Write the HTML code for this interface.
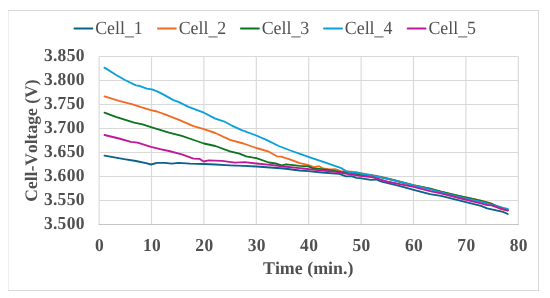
<!DOCTYPE html>
<html><head><meta charset="utf-8"><style>
html,body{margin:0;padding:0;background:#fff;}
body{width:550px;height:298px;overflow:hidden;}
svg{display:block;}

text{font-family:"Liberation Serif","Times New Roman",serif;fill:#505050;text-rendering:geometricPrecision;}
</style></head><body>
<svg width="550" height="298" viewBox="0 0 550 298">
<rect width="550" height="298" fill="#fff"/>
<g>
<g stroke-width="1" shape-rendering="crispEdges" fill="none">
<line x1="8.5" y1="10" x2="8.5" y2="291" stroke="#eeeeee"/>
<path d="M8,10.5 H538.5 V290.5 H8" stroke="#d9d9d9"/>
</g>
<g stroke="#d9d9d9" stroke-width="1.15">
<line x1="99.1" y1="56.45" x2="518.3" y2="56.45"/>
<line x1="99.1" y1="80.46" x2="518.3" y2="80.46"/>
<line x1="99.1" y1="104.46" x2="518.3" y2="104.46"/>
<line x1="99.1" y1="128.47" x2="518.3" y2="128.47"/>
<line x1="99.1" y1="152.48" x2="518.3" y2="152.48"/>
<line x1="99.1" y1="176.49" x2="518.3" y2="176.49"/>
<line x1="99.1" y1="200.49" x2="518.3" y2="200.49"/>
<line x1="99.10" y1="56.45" x2="99.10" y2="224.5"/>
<line x1="151.50" y1="56.45" x2="151.50" y2="224.5"/>
<line x1="203.90" y1="56.45" x2="203.90" y2="224.5"/>
<line x1="256.30" y1="56.45" x2="256.30" y2="224.5"/>
<line x1="308.70" y1="56.45" x2="308.70" y2="224.5"/>
<line x1="361.10" y1="56.45" x2="361.10" y2="224.5"/>
<line x1="413.50" y1="56.45" x2="413.50" y2="224.5"/>
<line x1="465.90" y1="56.45" x2="465.90" y2="224.5"/>
<line x1="518.30" y1="56.45" x2="518.30" y2="224.5"/>
</g>
<line x1="98.6" y1="224.5" x2="518.8" y2="224.5" stroke="#c4c4c4" stroke-width="1"/>
<g fill="none" stroke-width="1.85" stroke-linejoin="round" stroke-linecap="round">
<path d="M104.5,155.7 L124.2,159.2 L135.9,161.0 L146.0,163.1 L151.0,164.5 L156.9,162.8 L165.0,162.8 L171.7,163.6 L178.4,162.8 L190.2,163.6 L203.9,164.0 L215.3,164.5 L230.0,165.3 L243.4,165.8 L256.8,166.5 L270.2,167.5 L283.6,168.5 L299.7,170.5 L308.4,171.1 L321.8,172.5 L339.3,173.8 L346.0,176.3 L351.3,176.1 L356.7,177.9 L360.0,178.1 L370.7,179.8 L376.1,179.5 L381.5,181.7 L400.2,186.1 L413.6,189.8 L430.0,194.2 L441.0,195.9 L461.0,200.9 L481.0,205.8 L487.1,208.4 L495.1,210.1 L503.0,211.9 L507.8,214.0" stroke="#0b6189"/>
<path d="M104.5,96.4 L119.1,100.9 L132.6,104.3 L141.0,107.1 L151.0,110.1 L156.9,111.5 L165.0,114.4 L178.4,119.6 L193.5,126.2 L203.9,129.1 L215.3,133.0 L230.0,139.8 L243.4,143.5 L256.4,148.0 L268.9,151.7 L276.9,156.3 L281.0,156.7 L289.0,159.1 L300.0,163.2 L308.4,165.1 L313.8,167.1 L319.1,166.2 L323.2,168.5 L329.9,169.4 L335.2,169.1 L340.6,171.1 L351.3,171.6 L365.0,173.8 L372.1,175.2 L381.5,177.0 L393.5,180.0 L413.6,185.2 L430.0,188.6 L441.0,191.6 L451.8,194.3 L461.0,196.3 L466.6,197.4 L481.0,200.6 L491.6,203.4 L496.7,207.0 L500.2,209.0 L507.8,210.6" stroke="#f26b22"/>
<path d="M104.5,112.7 L115.8,116.8 L134.2,122.7 L142.6,124.4 L151.0,127.2 L169.0,132.6 L181.8,135.9 L195.2,140.5 L203.9,143.5 L215.3,146.0 L230.0,151.3 L239.4,153.7 L246.1,156.4 L256.4,158.2 L268.9,162.5 L275.6,163.5 L281.6,165.4 L286.3,164.4 L299.7,165.8 L308.4,166.3 L312.4,168.1 L328.5,169.8 L340.6,171.8 L351.3,173.2 L365.0,175.6 L372.1,175.6 L381.5,177.3 L393.5,180.2 L413.6,185.4 L430.0,188.7 L441.0,191.7 L461.0,196.4 L481.0,200.9 L492.0,204.1 L507.8,210.2" stroke="#0b741e"/>
<path d="M104.5,67.6 L115.8,74.8 L125.0,80.0 L135.9,85.3 L139.3,85.9 L146.8,88.7 L151.9,89.3 L157.7,91.6 L165.0,95.4 L173.4,100.1 L178.4,101.8 L188.5,106.8 L203.9,112.7 L215.3,118.6 L223.7,121.3 L231.3,125.3 L241.7,130.1 L256.3,135.5 L266.9,140.2 L278.7,146.0 L290.4,150.5 L300.0,153.9 L309.8,157.3 L321.8,161.4 L340.6,167.8 L346.0,171.1 L351.3,172.5 L356.7,172.5 L365.0,174.5 L372.1,175.4 L381.5,177.4 L393.5,180.1 L413.6,185.4 L430.0,189.3 L451.8,195.2 L466.6,198.6 L481.3,201.9 L492.1,205.0 L503.0,208.0 L507.8,209.0" stroke="#0aa0dc"/>
<path d="M104.5,135.0 L119.1,138.5 L130.9,141.8 L137.6,142.6 L151.0,146.9 L161.1,149.3 L169.0,151.0 L181.8,154.4 L193.5,158.6 L199.4,158.8 L203.6,161.5 L208.6,160.4 L222.0,160.9 L235.0,162.7 L244.8,162.2 L256.4,163.5 L270.2,164.8 L283.6,166.5 L299.7,168.1 L303.0,168.5 L315.1,169.8 L335.2,171.8 L348.6,174.2 L360.0,175.9 L373.4,177.4 L386.8,181.5 L413.6,186.9 L430.0,191.1 L441.0,193.4 L461.0,198.5 L481.0,203.4 L487.1,205.1 L491.6,205.3 L495.1,206.6 L503.0,209.2 L507.8,210.4" stroke="#c0189a"/>
</g>
<g>
<text transform="translate(84.73,61.40) scale(0.960,1.000)" x="-42.47 -33.08 -28.25 -18.77 -9.29" y="0" font-size="18.2px" font-weight="bold">3.850</text>
<text transform="translate(84.73,85.41) scale(0.960,1.000)" x="-42.47 -33.08 -28.25 -18.77 -9.29" y="0" font-size="18.2px" font-weight="bold">3.800</text>
<text transform="translate(84.73,109.41) scale(0.960,1.000)" x="-42.47 -33.08 -28.25 -18.77 -9.29" y="0" font-size="18.2px" font-weight="bold">3.750</text>
<text transform="translate(84.73,133.42) scale(0.960,1.000)" x="-42.47 -33.08 -28.25 -18.77 -9.29" y="0" font-size="18.2px" font-weight="bold">3.700</text>
<text transform="translate(84.73,157.43) scale(0.960,1.000)" x="-42.47 -33.08 -28.25 -18.77 -9.29" y="0" font-size="18.2px" font-weight="bold">3.650</text>
<text transform="translate(84.73,181.44) scale(0.960,1.000)" x="-42.47 -33.08 -28.25 -18.77 -9.29" y="0" font-size="18.2px" font-weight="bold">3.600</text>
<text transform="translate(84.73,205.44) scale(0.960,1.000)" x="-42.47 -33.08 -28.25 -18.77 -9.29" y="0" font-size="18.2px" font-weight="bold">3.550</text>
<text transform="translate(84.73,229.45) scale(0.960,1.000)" x="-42.47 -33.08 -28.25 -18.77 -9.29" y="0" font-size="18.2px" font-weight="bold">3.500</text>
<text transform="translate(99.40,250.80) scale(0.960,1.000)" x="-4.55" y="0" font-size="18.2px" font-weight="bold">0</text>
<text transform="translate(151.80,250.80) scale(0.960,1.000)" x="-9.29 0.19" y="0" font-size="18.2px" font-weight="bold">10</text>
<text transform="translate(204.20,250.80) scale(0.960,1.000)" x="-9.29 0.19" y="0" font-size="18.2px" font-weight="bold">20</text>
<text transform="translate(256.60,250.80) scale(0.960,1.000)" x="-9.29 0.19" y="0" font-size="18.2px" font-weight="bold">30</text>
<text transform="translate(309.00,250.80) scale(0.960,1.000)" x="-9.29 0.19" y="0" font-size="18.2px" font-weight="bold">40</text>
<text transform="translate(361.40,250.80) scale(0.960,1.000)" x="-9.29 0.19" y="0" font-size="18.2px" font-weight="bold">50</text>
<text transform="translate(413.80,250.80) scale(0.960,1.000)" x="-9.29 0.19" y="0" font-size="18.2px" font-weight="bold">60</text>
<text transform="translate(466.20,250.80) scale(0.960,1.000)" x="-9.29 0.19" y="0" font-size="18.2px" font-weight="bold">70</text>
<text transform="translate(518.60,250.80) scale(0.960,1.000)" x="-9.29 0.19" y="0" font-size="18.2px" font-weight="bold">80</text>
<text transform="translate(308.20,274.00) scale(1.000,1.000)" x="-45.24 -33.30 -28.33 -13.42 -5.47 -1.00 4.96 19.88 24.85 34.80 39.28" y="0" font-size="17.9px" font-weight="bold">Time (min.)</text>
<text transform="translate(37.20,140.60) rotate(-90) scale(1.000,1.000)" x="-61.16 -48.49 -40.70 -35.82 -30.94 -25.10 -12.43 -3.65 1.23 7.07 15.84 24.62 32.41 36.80 42.64 55.32" y="0" font-size="17.55px" font-weight="bold">Cell-Voltage (V)</text>
</g>
<g stroke-width="1.85" stroke-linecap="round">
<line x1="74.4" y1="28.5" x2="92.4" y2="28.5" stroke="#0b6189"/>
<text transform="translate(95.20,34.20) scale(1.000,1.040)" x="0.00 11.91 19.83 24.79 29.75 38.67" y="0 0 0 0 1.05769 0" font-size="17.85px">Cell_1</text>
<line x1="157.9" y1="28.5" x2="175.9" y2="28.5" stroke="#f26b22"/>
<text transform="translate(178.70,34.20) scale(1.000,1.040)" x="0.00 11.91 19.83 24.79 29.75 38.67" y="0 0 0 0 1.05769 0" font-size="17.85px">Cell_2</text>
<line x1="240.9" y1="28.5" x2="258.9" y2="28.5" stroke="#0b741e"/>
<text transform="translate(261.70,34.20) scale(1.000,1.040)" x="0.00 11.91 19.83 24.79 29.75 38.67" y="0 0 0 0 1.05769 0" font-size="17.85px">Cell_3</text>
<line x1="324.0" y1="28.5" x2="342.0" y2="28.5" stroke="#0aa0dc"/>
<text transform="translate(344.80,34.20) scale(1.000,1.040)" x="0.00 11.91 19.83 24.79 29.75 38.67" y="0 0 0 0 1.05769 0" font-size="17.85px">Cell_4</text>
<line x1="407.59999999999997" y1="28.5" x2="425.59999999999997" y2="28.5" stroke="#c0189a"/>
<text transform="translate(428.40,34.20) scale(1.000,1.040)" x="0.00 11.91 19.83 24.79 29.75 38.67" y="0 0 0 0 1.05769 0" font-size="17.85px">Cell_5</text>
</g>
</g>
</svg>
</body></html>
